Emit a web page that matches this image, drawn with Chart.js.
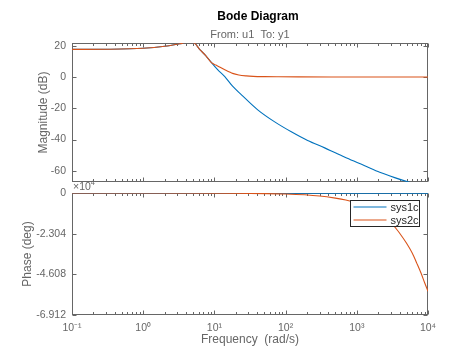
<!DOCTYPE html>
<html><head><meta charset="utf-8">
<script src="https://cdn.jsdelivr.net/npm/chart.js@4/dist/chart.umd.min.js"></script>
<style>
html,body{margin:0;padding:0;background:#fff;width:474px;height:355px;overflow:hidden;}
#w1{position:absolute;left:0;top:0;width:474px;height:195px;}
#w2{position:absolute;left:0;top:176px;width:474px;height:179px;}
</style></head><body>
<div id="w1"><canvas id="c1"></canvas></div>
<div id="w2"><canvas id="c2"></canvas></div>
<script>
// ---- data ----
const seriesNames = ['sys1c', 'sys2c'];
const seriesColors = ['#0072BD', '#D95319'];

const magFreq1 = [0.1, 0.34, 1, 2, 3.26, 4.22, 5.28, 6.2, 7.55, 9.1, 11.1, 14, 18, 24, 40.6, 70.3, 122, 204, 354, 490, 721, 1291, 2099, 3405, 5188, 10000];
const magDb1   = [17.6, 17.7, 18.3, 19.6, 21.2, 22.2, 21.5, 17.6, 13.7, 9.2, 4.7, 0.2, -5.9, -11.4, -21.0, -28.7, -35.2, -40.6, -45.3, -48.3, -51.8, -56.7, -60.9, -64.3, -66.9, -70.5];

const magFreq2 = [0.1, 0.34, 1, 2, 3.26, 4.22, 5.28, 6.2, 7.55, 9.1, 10.5, 12, 14, 16, 18, 22, 28, 35, 50, 80, 150, 500, 2000, 10000];
const magDb2   = [17.6, 17.7, 18.3, 19.6, 21.2, 22.2, 21.5, 17.6, 13.7, 9.2, 7.6, 6.2, 4.6, 3.4, 2.3, 1.3, 0.7, 0.4, 0.2, 0.1, 0.05, 0, 0, 0];

const phaseFreq1 = [0.1, 1, 3, 5, 8, 20, 100, 1000, 10000];
const phaseDeg1  = [-1, -8, -30, -90, -150, -172, -178, -180, -180];

const phaseFreq2 = [0.1, 1, 10, 100, 300, 500, 700, 1000, 1500, 2000, 2500, 3000, 3500, 4000, 5000, 6000, 7000, 8000, 9000, 10000];
const phaseDeg2  = [-1, -6, -60, -600, -1700, -2900, -4000, -5700, -8500, -11000, -14000, -16500, -19800, -22800, -28500, -34000, -40000, -45500, -51000, -55700];

const freqDecades = [0.1, 1, 10, 100, 1000, 10000];
const freqTickLabels = ['10\u207B\u00B9', '10\u2070', '10\u00B9', '10\u00B2', '10\u00B3', '10\u2074'];
const magTicks = [20, 0, -20, -40, -60];
const magTickLabels = ['20', '0', '-20', '-40', '-60'];
const phaseTicks = [0, -23040, -46080, -69120];
const phaseTickLabels = ['0', '-2.304', '-4.608', '-6.912'];

// ---- styling ----
const FONT = "'Liberation Sans', Arial, Helvetica, sans-serif";
const GREY = '#666666';
const pts = (xs, ys) => xs.map((v, i) => ({x: v, y: ys[i]}));
const minorTicks = [];
freqDecades.slice(0, -1).forEach(d => { for (let k = 2; k <= 9; k++) minorTicks.push(d * k); });

const framePlugin = {
  id: 'frame',
  beforeDatasetsDraw(chart) {
    const {ctx, chartArea: a, scales: {x, y}} = chart;
    ctx.save();
    ctx.strokeStyle = GREY; ctx.lineWidth = 1;
    const L = Math.round(a.left) + 0.5, R = Math.round(a.right) - 0.5;
    const T = Math.round(a.top) + 0.5, B = Math.round(a.bottom) - 0.5;
    ctx.strokeRect(L, T, R - L, B - T);
    ctx.beginPath();
    const xt = (v, len) => {
      const px = Math.round(x.getPixelForValue(v)) + 0.5;
      ctx.moveTo(px, B); ctx.lineTo(px, B - len);
      ctx.moveTo(px, T); ctx.lineTo(px, T + len);
    };
    freqDecades.forEach(v => xt(v, 4));
    minorTicks.forEach(v => xt(v, 2.5));
    const yt = chart.options.plugins.frame.yTicks;
    yt.forEach(v => {
      const py = Math.round(y.getPixelForValue(v)) + 0.5;
      ctx.moveTo(L, py); ctx.lineTo(L + 4, py);
      ctx.moveTo(R, py); ctx.lineTo(R - 4, py);
    });
    ctx.stroke();
    ctx.restore();
  }
};

const headPlugin = {
  id: 'head',
  afterDraw(chart) {
    const {ctx, chartArea: a} = chart;
    ctx.save();
    ctx.textAlign = 'center'; ctx.textBaseline = 'middle';
    ctx.fillStyle = '#000';
    ctx.font = 'bold 12px ' + FONT;
    ctx.fillText('Bode Diagram', (a.left + a.right) / 2 + 8, 16.5);
    ctx.fillStyle = GREY;
    ctx.font = '11px ' + FONT;
    ctx.fillText('From: u1  To: y1', (a.left + a.right) / 2, 34.5);
    ctx.restore();
  }
};

const legendPlugin = {
  id: 'boxlegend',
  afterDatasetsDraw(chart) {
    const {ctx, chartArea: a} = chart;
    ctx.save();
    // exponent marker of the phase axis
    ctx.fillStyle = GREY; ctx.textBaseline = 'middle'; ctx.textAlign = 'left';
    ctx.font = '10.5px ' + FONT;
    ctx.fillText('\u00D710', a.left + 1, a.top - 6);
    const w = ctx.measureText('\u00D710').width;
    ctx.font = '7.5px ' + FONT;
    ctx.fillText('4', a.left + 1 + w, a.top - 10);
    // legend box
    const bw = 69, bh = 26;
    const bx = Math.round(a.right) - 9 - bw + 0.5, by = Math.round(a.top) + 7 + 0.5;
    ctx.fillStyle = '#fff';
    ctx.fillRect(bx, by, bw, bh);
    ctx.strokeStyle = '#262626'; ctx.lineWidth = 1;
    ctx.strokeRect(bx, by, bw, bh);
    ctx.font = '11px ' + FONT;
    seriesNames.forEach((name, i) => {
      const yy = by + 6.5 + i * 13;
      ctx.strokeStyle = seriesColors[i]; ctx.lineWidth = 1.1;
      ctx.beginPath(); ctx.moveTo(bx + 3, yy); ctx.lineTo(bx + 36, yy); ctx.stroke();
      ctx.fillStyle = '#262626';
      ctx.fillText(name, bx + 40, yy + 0.5);
    });
    ctx.restore();
  }
};

const lineDs = (i, data) => ({
  label: seriesNames[i], data, borderColor: seriesColors[i], backgroundColor: seriesColors[i],
  borderWidth: 1.1, pointRadius: 0, fill: false, cubicInterpolationMode: 'monotone', order: 2 - i
});

const baseX = (show) => {
  const o = {
    type: 'logarithmic', min: 0.1, max: 10000, display: show,
    afterBuildTicks: s => { s.ticks = freqDecades.map(v => ({value: v})); },
    grid: {display: false, drawTicks: false}, border: {display: false},
    ticks: {color: GREY, font: {family: FONT, size: 10.5}, padding: 7, maxRotation: 0, autoSkip: false,
            callback: (v, i) => freqTickLabels[i]},
    title: {display: true, text: 'Frequency  (rad/s)', color: GREY, font: {family: FONT, size: 12}, padding: {top: 0, bottom: 8}}
  };
  if (show) o.afterFit = s => { s.height = 40; };
  return o;
};

const baseY = (min, max, ticks, labels, title, titlePad) => ({
  min, max,
  afterBuildTicks: s => { s.ticks = ticks.map(v => ({value: v})); },
  afterFit: s => { s.width = 72; },
  grid: {display: false, drawTicks: false}, border: {display: false},
  ticks: {color: GREY, font: {family: FONT, size: 10.5}, padding: 6, autoSkip: false,
          callback: (v, i) => labels[i]},
  title: {display: true, text: title, color: GREY, font: {family: FONT, size: 12}, padding: {top: titlePad, bottom: 0}}
});

const common = {
  responsive: true, maintainAspectRatio: false, animation: false, devicePixelRatio: 1,
  events: []
};

new Chart(document.getElementById('c1'), {
  type: 'line',
  data: {datasets: [lineDs(0, pts(magFreq1, magDb1)), lineDs(1, pts(magFreq2, magDb2))]},
  options: Object.assign({}, common, {
    layout: {padding: {left: 0, right: 46, top: 43, bottom: 13}},
    plugins: {legend: {display: false}, tooltip: {enabled: false}, frame: {yTicks: magTicks}},
    scales: {x: baseX(false), y: baseY(-67.1, 21.7, magTicks, magTickLabels, 'Magnitude (dB)', 36)}
  }),
  plugins: [framePlugin, headPlugin]
});

new Chart(document.getElementById('c2'), {
  type: 'line',
  data: {datasets: [lineDs(0, pts(phaseFreq1, phaseDeg1)), lineDs(1, pts(phaseFreq2, phaseDeg2))]},
  options: Object.assign({}, common, {
    layout: {padding: {left: 0, right: 46, top: 17, bottom: 0}},
    plugins: {legend: {display: false}, tooltip: {enabled: false}, frame: {yTicks: phaseTicks}},
    scales: {x: baseX(true), y: baseY(-69120, 0, phaseTicks, phaseTickLabels, 'Phase (deg)', 20)}
  }),
  plugins: [framePlugin, legendPlugin]
});
</script>
</body></html>
